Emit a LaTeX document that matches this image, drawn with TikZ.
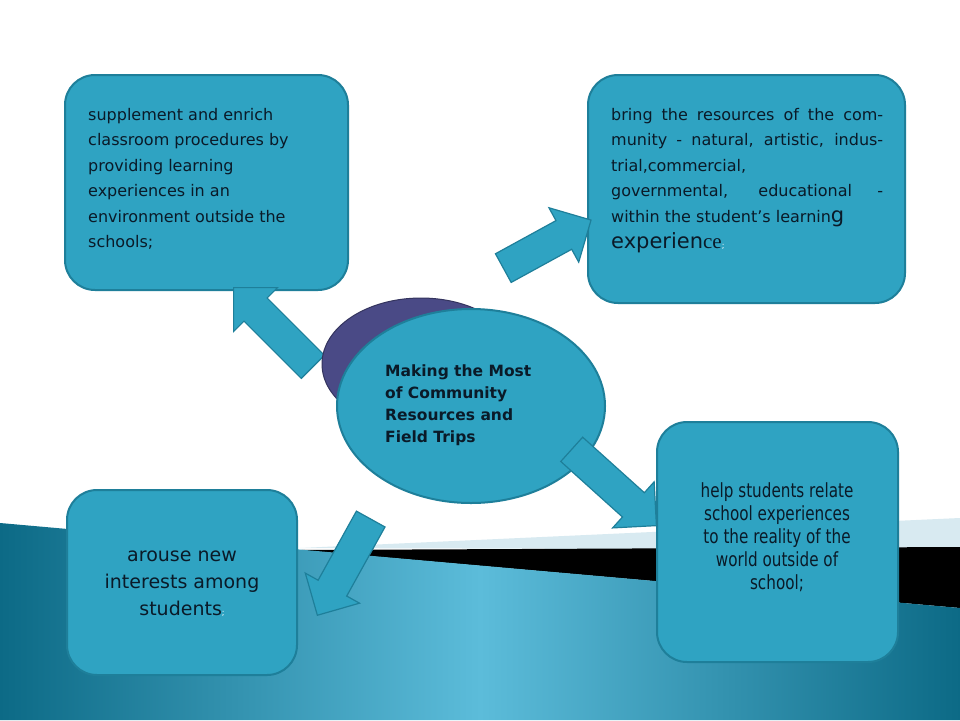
\documentclass[tikz,border=0pt]{standalone}
\usepackage{fontspec}
\setmainfont{DejaVu Sans}
\newfontfamily\condfont[FakeStretch=0.78]{DejaVu Sans}
\newfontfamily\serifce{Liberation Serif}
\usetikzlibrary{shapes.arrows,shapes.geometric}
\definecolor{boxfill}{HTML}{2FA3C2}
\definecolor{boxline}{HTML}{1E7F9A}
\definecolor{txt}{HTML}{0A1A28}
\definecolor{bgdark}{HTML}{0C6A86}
\definecolor{bglight}{HTML}{5CBCDA}
\definecolor{pale}{HTML}{D8EAF1}
\definecolor{purp}{HTML}{4A4A86}
\tikzset{
  box/.style={draw=boxline,line width=2pt,fill=boxfill,rounded corners=30pt},
  btxt/.style={text=txt,font=\fontsize{16}{25.5}\selectfont,inner sep=0pt},
  barrow/.style={single arrow,draw=boxline,line width=1.2pt,fill=boxfill,minimum width=62pt,single arrow head extend=14pt,inner ysep=15pt,inner xsep=8pt,anchor=center}
}
\begin{document}
\begin{tikzpicture}[x=1pt,y=-1pt]
\useasboundingbox (0,0) rectangle (960,720);
\fill[white] (0,0) rectangle (960,720);
% background bands
\fill[pale] (300,548) -- (960,518) -- (960,550) -- cycle;
\fill[black] (300,550) -- (960,547) -- (960,608) -- cycle;
\begin{scope}
\clip (0,523) -- (960,608) -- (960,720) -- (0,720) -- cycle;
\shade[left color=bgdark,right color=bglight] (0,500) rectangle (480,720);
\shade[left color=bglight,right color=bgdark] (480,500) rectangle (960,720);
\end{scope}
% boxes
\draw[box] (65,75) rectangle (348,290);
\draw[box] (588,75) rectangle (905,303);
\draw[box] (67,490) rectangle (297,675);
\draw[box] (657,422) rectangle (898,662);
\node[btxt,align=left,anchor=north west] (t1) at (88,108)
 {supplement and enrich\\classroom procedures by\\providing learning\\experiences in an\\environment outside the\\schools;};
\node[btxt,text width=272pt,align=justify,anchor=north west] (t2) at (611,108)
 {bring the resources of the community - natural, artistic, industrial,commercial,\hfill\break governmental, educational - within the student's learnin{\fontsize{21}{25}\selectfont g}\\[1pt]
 {\fontsize{21}{28}\selectfont experien{\serifce ce}\textcolor{white}{\fontsize{8}{8}\selectfont ;}}};
\node[btxt,font=\fontsize{19}{27}\selectfont,align=center] (t3) at (182,584)
 {arouse new\\interests among\\students\textcolor{white}{\fontsize{8}{8}\selectfont ;}};
\node[btxt,font=\condfont\fontsize{19.5}{23.2}\selectfont,align=center,anchor=north] (t4) at (777,482)
 {help students relate\\school experiences\\to the reality of the\\world outside of\\school;};
% arrows
\node[barrow,minimum height=112pt,rotate=135] (a1) at (279,333) {};
\node[barrow,minimum height=100pt,rotate=28.7] (a2) at (540,248) {};
\node[barrow,minimum height=110pt,rotate=-119] (a4) at (348,560) {};
% ellipses
\node[ellipse,draw=purp!70!black,line width=1pt,fill=purp,minimum width=198pt,minimum height=132pt] (back) at (421,364) {};
\node[ellipse,draw=boxline,line width=2pt,fill=boxfill,minimum width=268pt,minimum height=194pt] (hub) at (471,406) {};
\node[barrow,minimum height=114pt,rotate=-42] (a3) at (608,482) {};
\node[text=txt,font=\bfseries\fontsize{15.5}{22}\selectfont,align=left,anchor=north west,inner sep=0pt] (title) at (385,365)
 {Making the Most\\of Community\\Resources and\\Field Trips};
\end{tikzpicture}
\end{document}
